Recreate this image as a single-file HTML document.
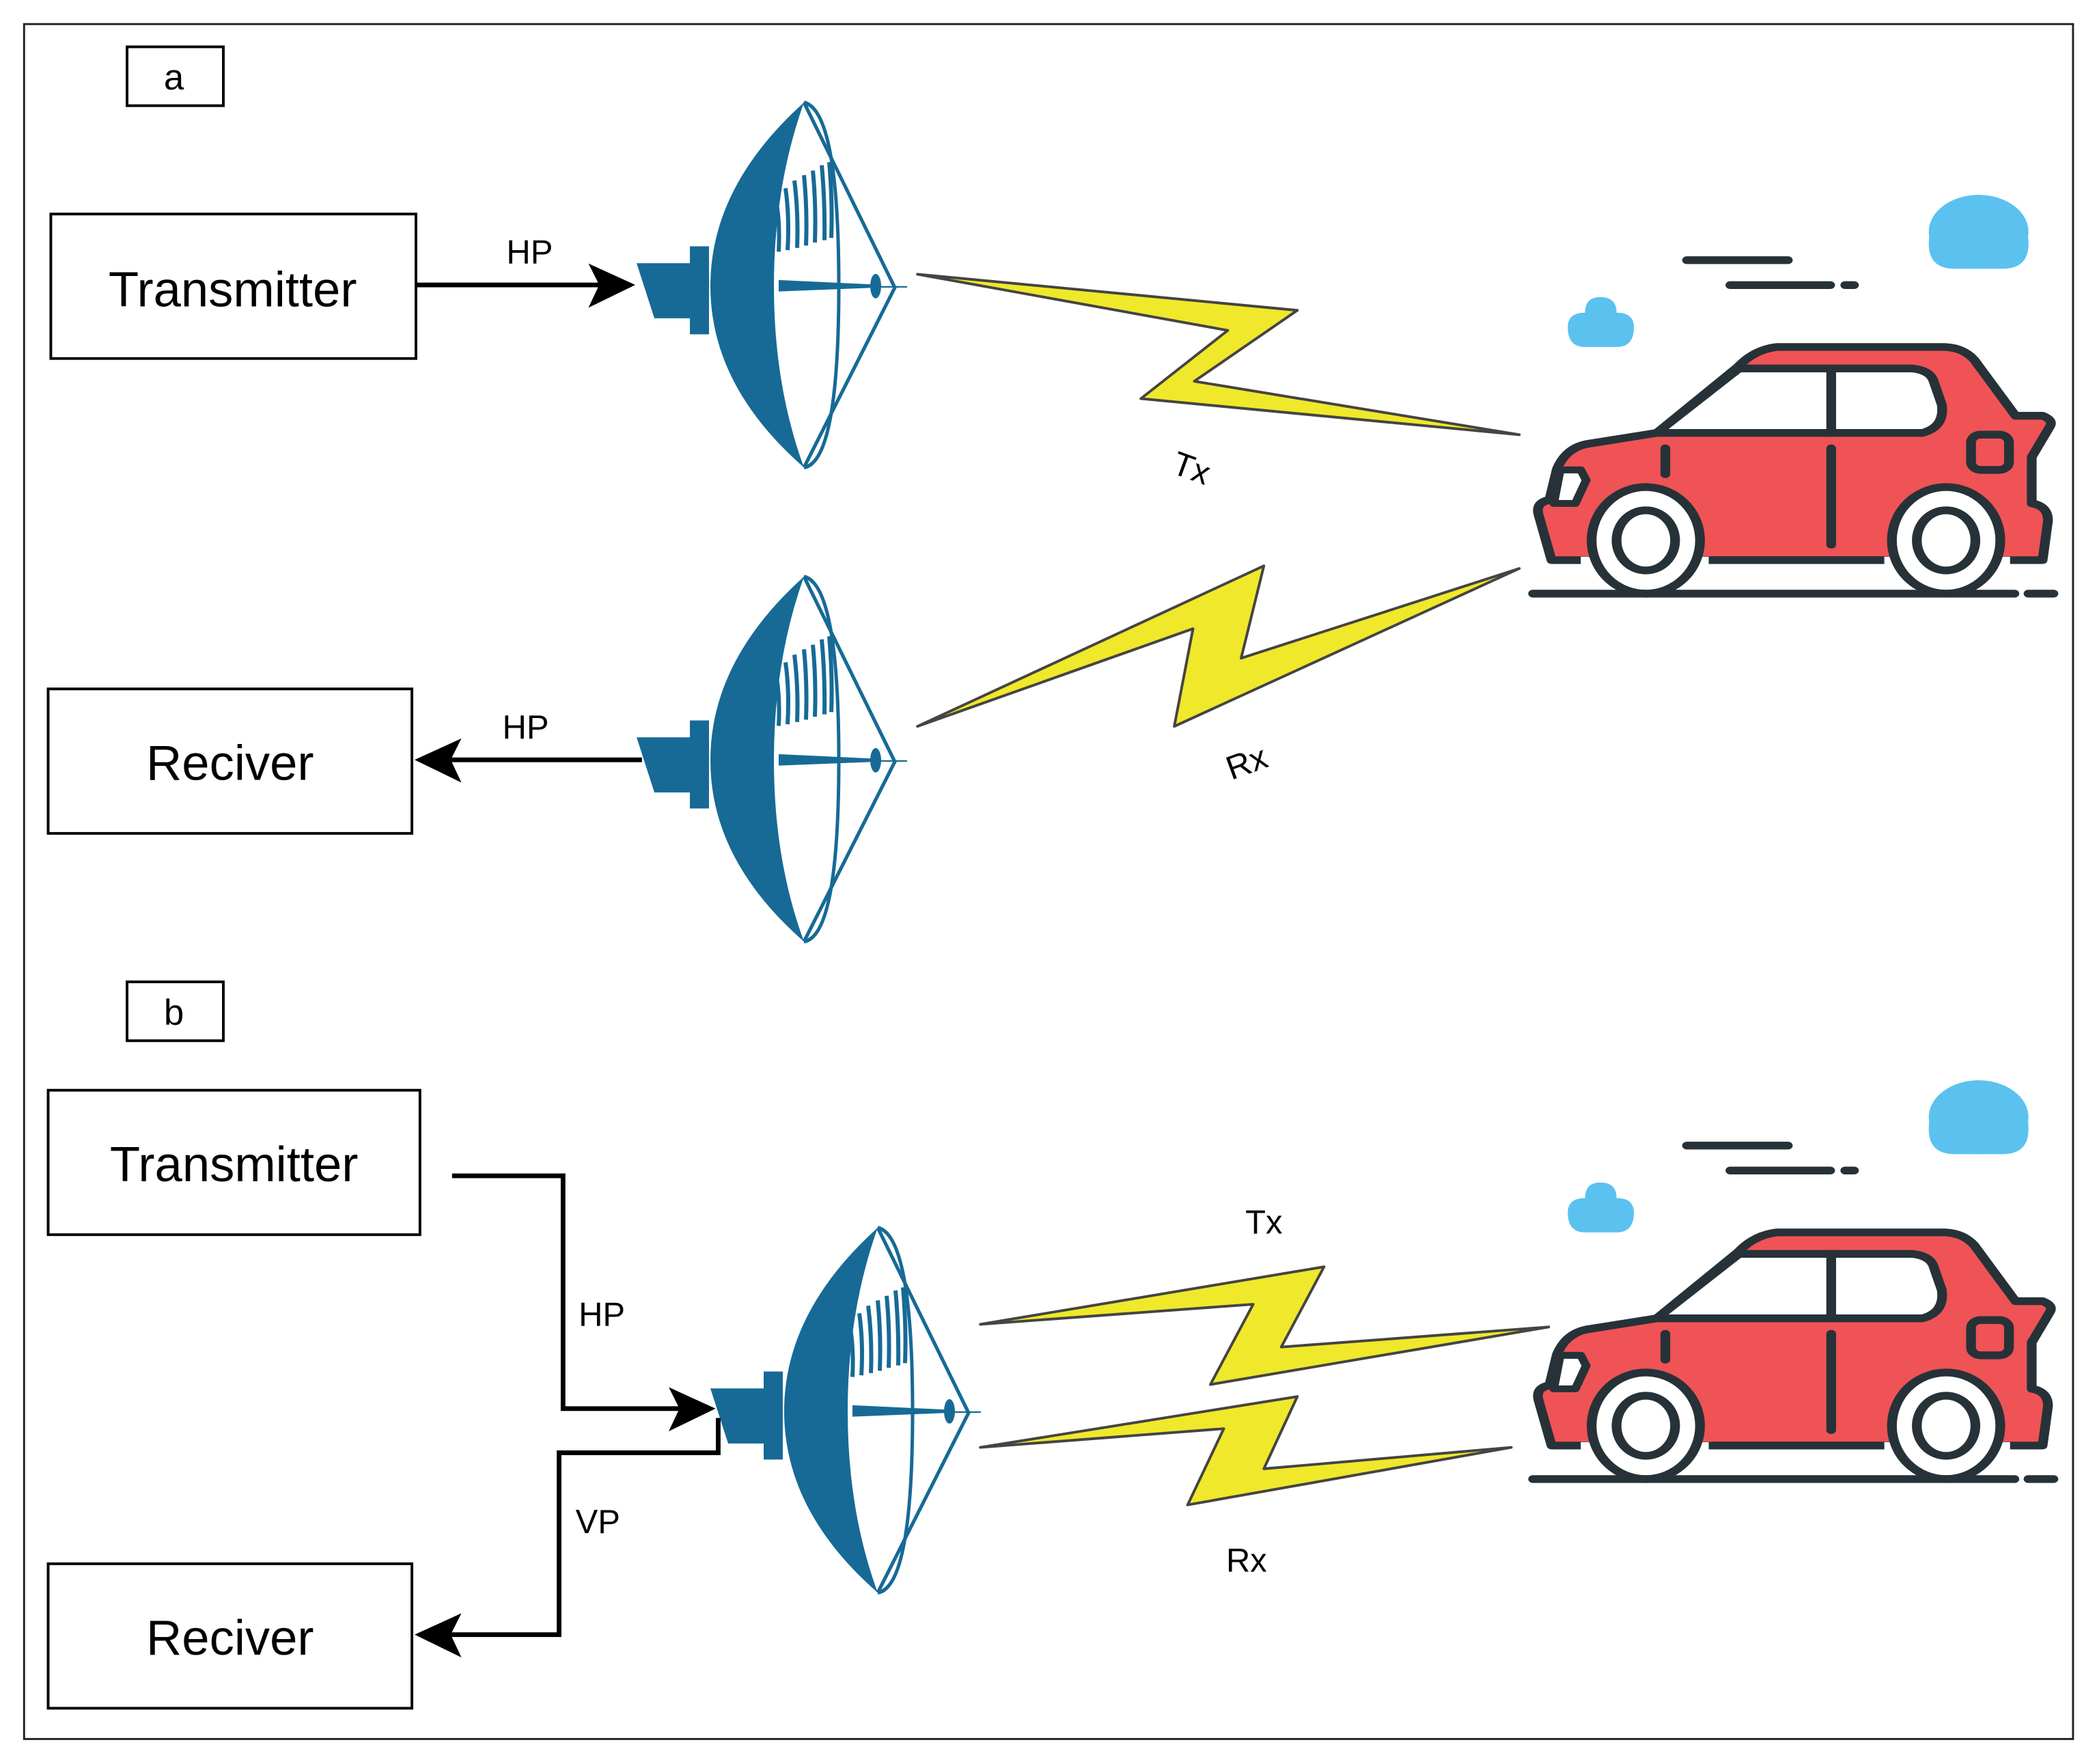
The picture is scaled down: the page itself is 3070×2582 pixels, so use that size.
<!DOCTYPE html>
<html><head><style>html,body{margin:0;padding:0;background:#fff}svg{display:block}</style></head>
<body>
<svg width="3070" height="2582" viewBox="0 0 3070 2582" xmlns="http://www.w3.org/2000/svg">
<defs>
<g id="ant"><g transform="translate(0,150) scale(1,1.12) translate(0,-150)">
  <polygon points="932,360 1010,360 1010,338 1038,338 1038,453 1010,453 1010,432 958,432" fill="#176a96"/>
  <path d="M1177,150 Q1040,260 1040,390 Q1040,520 1177,627 Q1133,520 1133,390 Q1133,260 1177,150Z" fill="#176a96"/>
  <path d="M1177,150 Q1228,160 1228,390 Q1228,620 1177,627" fill="none" stroke="#176a96" stroke-width="5"/>
  <path d="M1177,150 L1310,392 L1177,627" fill="none" stroke="#176a96" stroke-width="5"/>
  <polygon points="1140,382 1282,388 1282,392 1140,397" fill="#176a96"/>
  <line x1="1282" y1="391" x2="1328" y2="391" stroke="#176a96" stroke-width="2"/>
  <ellipse cx="1282" cy="390" rx="8" ry="16" fill="#176a96"/>
  <g stroke="#176a96" stroke-width="6" fill="none">
    <path d="M1137,282 Q1142,310 1140,345"/><path d="M1150,262 Q1156,300 1153,343"/>
    <path d="M1163,252 Q1169,295 1167,340"/><path d="M1177,245 Q1182,290 1180,337"/>
    <path d="M1190,239 Q1195,285 1193,333"/><path d="M1203,232 Q1208,280 1207,330"/>
    <path d="M1214,228 Q1219,280 1217,327"/>
  </g>
</g></g>
<g id="car"><g transform="translate(2200,250) scale(1.587,1.258) translate(-2200,-250)">
  <ellipse cx="2639" cy="321" rx="46" ry="43" fill="#5bc2ef"/>
  <path d="M2593,335 Q2593,300 2618,300 Q2618,278 2639,278 Q2661,278 2661,300 Q2685,300 2685,335 Q2685,364 2661,364 L2617,364 Q2593,364 2593,335Z" fill="#5bc2ef"/>
  <path d="M2260,432 Q2260,415 2276,415 Q2276,397 2290,397 Q2305,397 2305,415 Q2321,415 2321,432 Q2321,455 2305,455 L2276,455 Q2260,455 2260,432Z" fill="#5bc2ef"/>
  <g stroke="#263238" stroke-width="9" stroke-linecap="round" fill="none">
    <line x1="2370" y1="354" x2="2463" y2="354"/>
    <line x1="2410" y1="383" x2="2502" y2="383"/>
    <line x1="2516" y1="383" x2="2524" y2="383"/>
  </g>
  <path d="M2453,455 L2608,455 Q2625,456 2635,470 L2673,535 L2698,535 Q2708,540 2705,547 L2688,583 L2688,637 Q2703,640 2703,657 L2698,703 L2245,703 L2233,650 Q2230,636 2243,633 L2250,597 Q2258,573 2277,568 L2342,555 L2417,478 Q2432,458 2453,455Z" fill="#ef5356" stroke="#263238" stroke-width="9" stroke-linejoin="round"/>
  <path d="M2418,480 L2578,480 Q2593,482 2597,493 L2605,522 Q2608,548 2587,555 L2342,555Z" fill="#fff" stroke="#263238" stroke-width="9" stroke-linejoin="round"/>
  <g stroke="#263238" stroke-width="9" stroke-linecap="round" fill="none">
    <line x1="2503" y1="480" x2="2503" y2="555"/>
    <line x1="2503" y1="573" x2="2503" y2="685"/>
    <line x1="2350" y1="573" x2="2350" y2="603"/>
    <rect x="2632" y="557" width="35" height="41" rx="9"/>
  </g>
  <polygon points="2253,598 2272,598 2277,610 2267,637 2247,637" fill="#fff" stroke="#263238" stroke-width="8" stroke-linejoin="round"/>
  <rect x="2272" y="699" width="118" height="9" fill="#fff"/>
  <rect x="2552" y="699" width="116" height="9" fill="#fff"/>
  <g stroke="#263238" stroke-width="9" fill="#fff">
    <ellipse cx="2332" cy="680" rx="50" ry="62"/><ellipse cx="2332" cy="680" rx="27" ry="35"/>
    <ellipse cx="2609" cy="680" rx="50" ry="62"/><ellipse cx="2609" cy="680" rx="27" ry="35"/>
  </g>
  <g stroke="#263238" stroke-width="9" stroke-linecap="round" fill="none">
    <line x1="2395" y1="703" x2="2547" y2="703"/>
    <line x1="2228" y1="742" x2="2672" y2="742"/>
    <line x1="2685" y1="742" x2="2708" y2="742"/>
  </g>
</g></g>
</defs>

<use href="#ant"/>
<use href="#ant" transform="translate(0,694)"/>
<use href="#ant" transform="translate(108,1647)"/>
<use href="#car"/>
<use href="#car" transform="translate(0,1296)"/>

<g transform="scale(1.958)" font-family="Liberation Sans, Arial, sans-serif" fill="#000">
  <rect x="18" y="18" width="1532" height="1282" fill="none" stroke="#222" stroke-width="1.5"/>
  <rect x="95" y="35" width="72" height="44" fill="none" stroke="#000" stroke-width="2"/>
  <text x="130" y="67" font-size="27" text-anchor="middle">a</text>
  <rect x="95" y="734" width="72" height="44" fill="none" stroke="#000" stroke-width="2"/>
  <text x="130" y="766" font-size="27" text-anchor="middle">b</text>

  <g fill="none" stroke="#000" stroke-width="2">
    <rect x="38" y="160" width="273" height="108"/>
    <rect x="36" y="515" width="272" height="108"/>
    <rect x="36" y="815" width="278" height="108"/>
    <rect x="36" y="1169" width="272" height="108"/>
  </g>
  <g font-size="37" text-anchor="middle">
    <text x="174" y="229">Transmitter</text>
    <text x="172" y="583">Reciver</text>
    <text x="175" y="883">Transmitter</text>
    <text x="172" y="1237">Reciver</text>
  </g>
  <g fill="none" stroke="#000" stroke-width="3.5">
    <line x1="311" y1="213" x2="455" y2="213"/>
    <line x1="480" y1="568" x2="330" y2="568"/>
    <polyline points="338,879 421,879 421,1053 515,1053"/>
    <polyline points="537,1060 537,1086 418,1086 418,1222 330,1222"/>
  </g>
  <polygon points="475,213 440,197 448,213 440,230" fill="#000"/>
  <polygon points="310,568 345,552 337,568 345,585" fill="#000"/>
  <polygon points="535,1053 500,1037 508,1053 500,1070" fill="#000"/>
  <polygon points="310,1222 345,1206 337,1222 345,1239" fill="#000"/>
  <g font-size="25" text-anchor="middle">
    <text x="396" y="197">HP</text>
    <text x="393" y="552">HP</text>
    <text x="450" y="991">HP</text>
    <text x="447" y="1146">VP</text>
    <text x="945" y="922">Tx</text>
    <text x="932" y="1175">Rx</text>
    <text transform="translate(888,358) rotate(20)" text-anchor="middle">Tx</text>
    <text transform="translate(935,578) rotate(-20)" text-anchor="middle">Rx</text>
  </g>
  <g fill="#f0e82a" stroke="#444" stroke-width="2" stroke-linejoin="round">
    <polygon points="686,205 970,232 893,285 1136,325 853,298 918,247"/>
    <polygon points="686,543 945,423 928,492 1136,425 878,543 892,470"/>
    <polygon points="733,990 990,947 958,1007 1158,992 905,1035 937,975"/>
    <polygon points="733,1082 970,1044 945,1098 1130,1082 888,1125 915,1068"/>
  </g>
</g>
</svg>
</body></html>
